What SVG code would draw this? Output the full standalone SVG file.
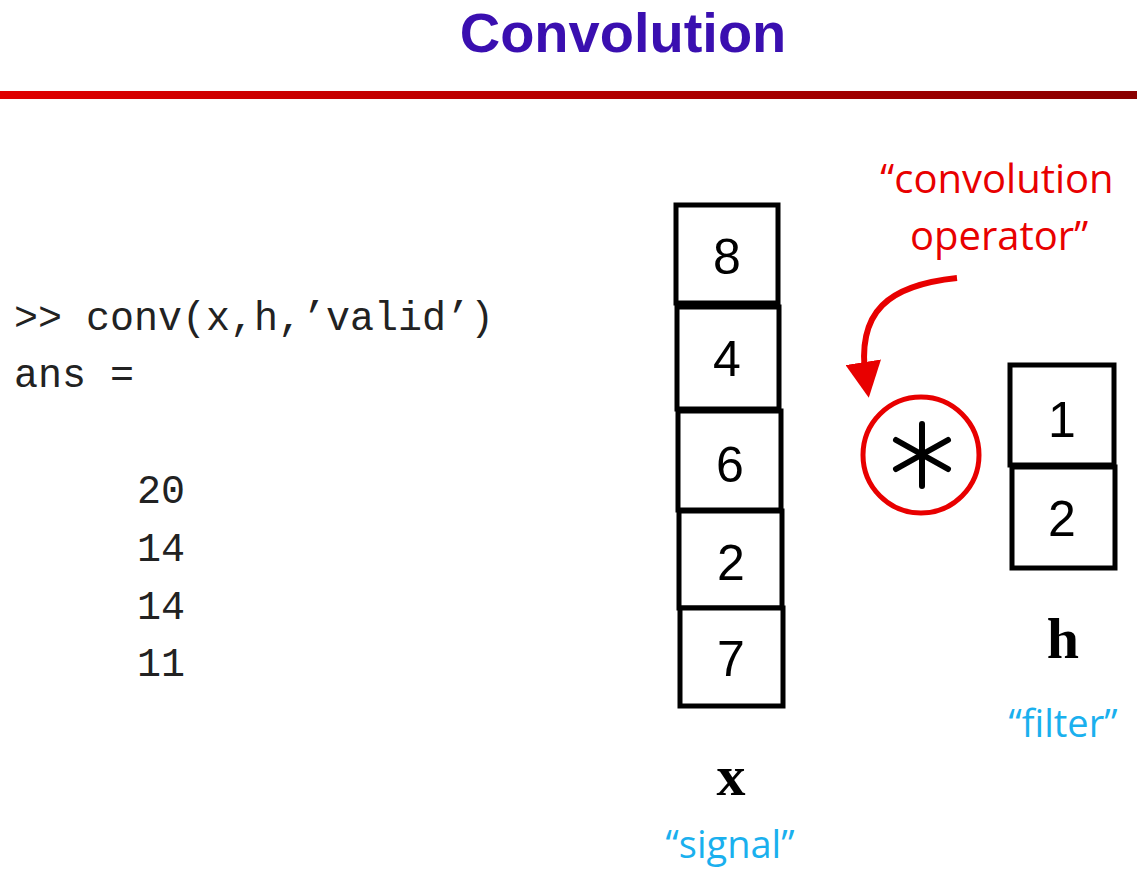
<svg xmlns="http://www.w3.org/2000/svg" width="1137" height="874" viewBox="0 0 1137 874">
<defs>
<linearGradient id="bar" x1="0" x2="1"><stop offset="0" stop-color="#e00000"/><stop offset="1" stop-color="#8a0000"/></linearGradient>
<marker id="ah" markerWidth="6" markerHeight="6" refX="3" refY="3" orient="auto" markerUnits="strokeWidth"><path d="M0,0 L6,3 L0,6 z" fill="#e80000"/></marker>
<style>
.box{fill:#fff;stroke:#000;stroke-width:5}
.num{font-family:"Liberation Sans",Arial,sans-serif;font-size:50px;text-anchor:middle}
.code{font-family:"Liberation Mono","Courier New",monospace;font-size:40px;fill:#222}
.lab{font-family:"Liberation Serif",serif;font-weight:bold;font-size:58px;text-anchor:middle}
.blue{font-family:"Open Sans","Liberation Sans",sans-serif;font-size:38px;fill:#1ab0ee;text-anchor:middle}
.red{font-family:"Open Sans","Liberation Sans",sans-serif;font-size:40px;fill:#e80000;text-anchor:middle}
</style>
</defs>
<rect width="1137" height="874" fill="#fff"/>
<text x="623" y="52" font-family="Liberation Sans,Arial,sans-serif" font-weight="bold" font-size="56" fill="#3a0fb0" text-anchor="middle">Convolution</text>
<rect x="0" y="91" width="1137" height="8" fill="url(#bar)"/>
<g id="code">
<text class="code" x="14" y="330" xml:space="preserve">&gt;&gt; conv(x,h,’valid’)</text>
<text class="code" x="14" y="387">ans =</text>
<text class="code" x="137" y="503">20</text>
<text class="code" x="137" y="561">14</text>
<text class="code" x="137" y="619">14</text>
<text class="code" x="137" y="676">11</text>
</g>
<g id="x">
<rect class="box" x="676" y="205" width="102" height="98"/><text class="num" x="727" y="274">8</text>
<rect class="box" x="677" y="307" width="102" height="102"/><text class="num" x="727" y="376">4</text>
<rect class="box" x="678" y="411" width="103" height="99"/><text class="num" x="730" y="482">6</text>
<rect class="box" x="679" y="511" width="103" height="97"/><text class="num" x="731" y="580">2</text>
<rect class="box" x="680" y="608" width="103" height="98"/><text class="num" x="731" y="676">7</text>
<text class="lab" x="731" y="795">x</text>
<text class="blue" x="730" y="858">“signal”</text>
</g>
<g id="h">
<rect class="box" x="1010" y="365" width="104" height="100"/><text class="num" x="1062" y="437">1</text>
<rect class="box" x="1012" y="467" width="103" height="101"/><text class="num" x="1062" y="536">2</text>
<text class="lab" x="1063" y="658">h</text>
<text class="blue" x="1063" y="737">“filter”</text>
</g>
<g id="op">
<circle cx="921" cy="455" r="58" fill="#fff" stroke="#e80000" stroke-width="5"/>
<g stroke="#000" stroke-width="6" stroke-linecap="round">
<line x1="922" y1="424" x2="922" y2="486"/>
<line x1="896" y1="440" x2="948" y2="469"/>
<line x1="896" y1="469" x2="948" y2="440"/>
</g>
<text class="red" x="997" y="193">“convolution</text>
<text class="red" x="999" y="250">operator”</text>
</g>
<g id="connectors">
<path d="M957,278 C890,285 855,310 866,380" fill="none" stroke="#e80000" stroke-width="6" marker-end="url(#ah)"/>
</g>
</svg>
